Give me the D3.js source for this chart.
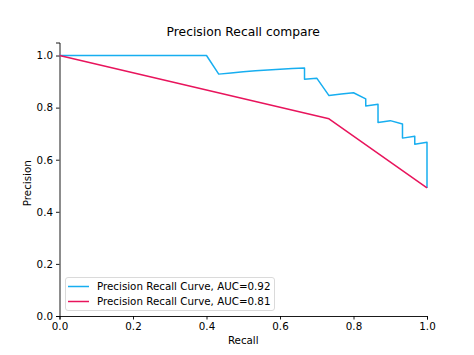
<!DOCTYPE html>
<html><head><meta charset="utf-8">
<script src="https://d3js.org/d3.v7.min.js"></script>
<style>body{margin:0;background:#fff}svg{display:block}text{font-family:"DejaVu Sans",sans-serif;fill:#000}</style>
</head><body>
<svg id="c" width="474" height="355"></svg>
<script>
const blueRecall = [0, 0.4, 0.4333, 0.4667, 0.5, 0.5333, 0.5667, 0.6, 0.6333, 0.6667, 0.6667, 0.7, 0.7333, 0.7667, 0.8, 0.8333, 0.8333, 0.8667, 0.8667, 0.9, 0.9333, 0.9333, 0.9667, 0.9667, 1.0, 1.0];
const bluePrecision = [1.0, 1.0, 0.9286, 0.9333, 0.9375, 0.9412, 0.9444, 0.9474, 0.95, 0.9524, 0.9091, 0.913, 0.8462, 0.8519, 0.8571, 0.8333, 0.8065, 0.8125, 0.7429, 0.75, 0.7368, 0.6829, 0.6905, 0.6591, 0.6667, 0.4918];
const redRecall = [0, 0.7333, 1.0];
const redPrecision = [1.0, 0.757, 0.4918];
const xTicks = [0, 0.2, 0.4, 0.6, 0.8, 1.0];
const yTicks = [0, 0.2, 0.4, 0.6, 0.8, 1.0];
const seriesLabels = ["Precision Recall Curve, AUC=0.92", "Precision Recall Curve, AUC=0.81"];
const colors = ["#17aef0", "#e8145c"];

const svg = d3.select("#c");
const L = 59.5, R = 427, T = 42.5, B = 316;
const x = d3.scaleLinear().domain([0, 1]).range([L, R]);
const y = d3.scaleLinear().domain([0, 1.05]).range([B, T]);

const xa = svg.append("g").attr("transform", `translate(0,${B})`)
  .call(d3.axisBottom(x).tickValues(xTicks).tickFormat(d3.format(".1f")).tickSizeOuter(0).tickSize(3.5).tickPadding(3));
const ya = svg.append("g").attr("transform", `translate(${L},0)`)
  .call(d3.axisLeft(y).tickValues(yTicks).tickFormat(d3.format(".1f")).tickSizeOuter(0).tickSize(3.5).tickPadding(3));
[xa, ya].forEach(a => {
  a.selectAll("path").attr("stroke", "#000").attr("stroke-width", 0.9);
  a.selectAll("line").attr("stroke", "#000").attr("stroke-width", 0.9);
  a.selectAll("text").attr("font-size", "10.3px").attr("font-family", "DejaVu Sans").attr("fill", "#000");
});

const line = d3.line().x(d => x(d[0])).y(d => y(d[1]));
const blue = blueRecall.map((r, i) => [r, bluePrecision[i]]);
const red = redRecall.map((r, i) => [r, redPrecision[i]]);
svg.append("path").datum(blue).attr("d", line).attr("fill", "none").attr("stroke", colors[0]).attr("stroke-width", 1.5).attr("stroke-linejoin", "round");
svg.append("path").datum(red).attr("d", line).attr("fill", "none").attr("stroke", colors[1]).attr("stroke-width", 1.5).attr("stroke-linejoin", "round");

svg.append("text").attr("x", (L + R) / 2).attr("y", 36).attr("text-anchor", "middle").attr("font-size", "12.3px").text("Precision Recall compare");
svg.append("text").attr("x", (L + R) / 2).attr("y", 344).attr("text-anchor", "middle").attr("font-size", "10.3px").text("Recall");
svg.append("text").attr("transform", `translate(31,${(T + B) / 2 + 4}) rotate(-90)`).attr("text-anchor", "middle").attr("font-size", "10.3px").text("Precision");

// legend
const lg = svg.append("g");
lg.append("rect").attr("x", 65.5).attr("y", 277.5).attr("width", 209).attr("height", 33).attr("rx", 2.5)
  .attr("fill", "#fff").attr("fill-opacity", 0.8).attr("stroke", "#d6d6d6").attr("stroke-width", 0.9);
seriesLabels.forEach((s, i) => {
  const yy = 286.5 + i * 15;
  lg.append("line").attr("x1", 68).attr("x2", 89).attr("y1", yy).attr("y2", yy).attr("stroke", colors[i]).attr("stroke-width", 1.5);
  lg.append("text").attr("x", 97).attr("y", yy + 3.7).attr("font-size", "10.3px").text(s);
});
</script>
</body></html>
